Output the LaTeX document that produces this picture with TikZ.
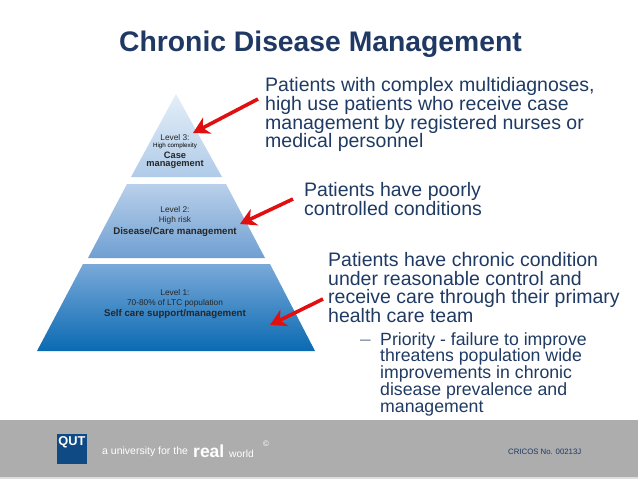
\documentclass[tikz,border=0pt]{standalone}
\usepackage{fontspec}
\setmainfont{Liberation Sans}
\usetikzlibrary{arrows.meta,positioning,shadings}
\definecolor{navy}{HTML}{1F3864}
\definecolor{bodyblue}{HTML}{1F3A63}
\definecolor{qutblue}{HTML}{0F4A85}
\definecolor{band}{HTML}{ADADAD}
\definecolor{topA}{HTML}{E4EEF8}
\definecolor{topB}{HTML}{AFCBE8}
\definecolor{midA}{HTML}{B9D0EA}
\definecolor{midB}{HTML}{6F9FD2}
\definecolor{lowA}{HTML}{79A9D9}
\definecolor{lowB}{HTML}{3F8CCB}
\definecolor{lowC}{HTML}{0A6AB2}
\definecolor{arrowred}{HTML}{E01010}
\tikzset{
  bodytext/.style={anchor=north west,align=left,inner sep=0pt,text=bodyblue,font=\fontsize{19.5}{18.7}\selectfont},
  leveltext/.style={inner sep=0pt,text=black!85,font=\fontsize{8.3}{9}\selectfont},
  levelbold/.style={inner sep=0pt,text=black!85,font=\fontsize{9.7}{11}\selectfont\bfseries},
  redarrow/.style={-{Stealth[length=16pt,width=18pt,inset=5pt]},draw=arrowred,line width=3.6pt},
  foottext/.style={anchor=base west,inner sep=0pt,text=white}
}
\begin{document}
\begin{tikzpicture}[x=1pt,y=-1pt]
\useasboundingbox (0,0) rectangle (638,479);

% footer band
\fill [band!40] (0,477) rectangle (638,479);
\fill [band] (0,420) rectangle (638,477);

% pyramid
\shade [top color=topA,bottom color=topB] (176,94) -- (222,177) -- (131,177) -- cycle;
\shade [top color=midA,bottom color=midB] (127,184) -- (226,184) -- (265,258) -- (88,258) -- cycle;
\shade [top color=lowA,middle color=lowB,bottom color=lowC] (83,264) -- (270,264) -- (315,351) -- (37,351) -- cycle;

\node [leveltext] (level3a) at (175,138) {Level 3:};
\node [inner sep=0pt,text=black,font=\fontsize{6.2}{7}\selectfont] (level3b) at (175,146) {High complexity};
\node [levelbold,font=\fontsize{9.3}{9}\selectfont\bfseries] (level3c) at (175,155) {Case};
\node [levelbold,font=\fontsize{9.3}{9}\selectfont\bfseries] (level3d) at (175,164) {management};
\node [leveltext] (level2a) at (175,210) {Level 2:};
\node [leveltext] (level2b) at (175,220) {High risk};
\node [levelbold] (level2c) at (175,232) {Disease/Care management};
\node [leveltext] (level1a) at (175,293) {Level 1:};
\node [leveltext] (level1b) at (175,303) {70-80\% of LTC population};
\node [levelbold] (level1c) at (175,314) {Self care support/management};

% text
\node [anchor=base west,inner sep=0pt,text=navy,font=\fontsize{28.3}{30}\selectfont\bfseries] (title) at (119,52) {Chronic Disease Management};
\node [bodytext] (para3) at (265,77.5) {Patients with complex multidiagnoses,\\high use patients who receive case\\management by registered nurses or\\medical personnel};
\node [bodytext] (para2) at (304,182) {Patients have poorly\\controlled conditions};
\node [bodytext] (para1) at (328,252) {Patients have chronic condition\\under reasonable control and\\receive care through their primary\\health care team};
\node [anchor=north west,inner sep=0pt,text=bodyblue!60,font=\fontsize{19}{19}\selectfont] (dash) at (360,339.5) {--};
\node [bodytext,font=\fontsize{17.7}{16.9}\selectfont] (sub1) at (380,332) {Priority - failure to improve\\threatens population wide\\improvements in chronic\\disease prevalence and\\management};

% arrows
\coordinate (start3) at (258,99);
\coordinate (tip3) at (193,133);
\coordinate (start2) at (293,199);
\coordinate (tip2) at (240,224);
\coordinate (start1) at (323,299);
\coordinate (tip1) at (270,325);
\draw [redarrow] (start3) -- (tip3);
\draw [redarrow] (start2) -- (tip2);
\draw [redarrow] (start1) -- (tip1);

% footer
\node [fill=qutblue,minimum width=30pt,minimum height=30pt,inner sep=0pt] (logo) at (72,449) {};
\node [anchor=north,inner sep=0pt,yshift=-3pt,text=white,font=\fontsize{12.8}{13}\selectfont\bfseries] (qut) at (logo.north) {QUT};
\node [foottext,font=\fontsize{10.5}{10}\selectfont] (uni) at (102,454) {a university for the};
\node [foottext,font=\fontsize{17.5}{16}\selectfont\bfseries] (real) at (193,457) {real};
\node [foottext,font=\fontsize{10.3}{10}\selectfont] (world) at (229,457) {world};
\node [inner sep=0pt,text=white,font=\fontsize{8}{8}\selectfont] (reg) at (266,444) {©};
\node [anchor=base west,inner sep=0pt,text=navy,font=\fontsize{7.8}{9}\selectfont] (cricos) at (508,454) {CRICOS No. 00213J};
\end{tikzpicture}
\end{document}
